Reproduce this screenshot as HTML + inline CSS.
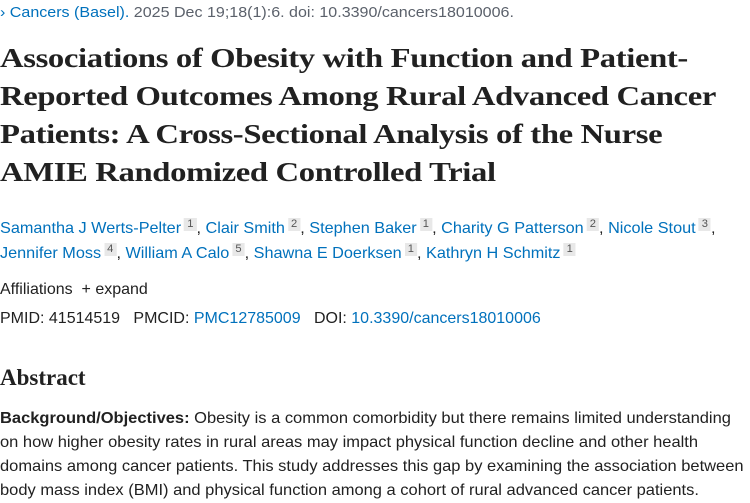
<!DOCTYPE html>
<html><head><meta charset="utf-8">
<style>
body{margin:0;width:750px;height:500px;overflow:hidden;background:#fff;font-family:"Liberation Sans",sans-serif;color:#212121}
.a{color:#0071bc;text-decoration:none}
.l{position:absolute;left:0;white-space:nowrap;transform-origin:0 0}
.t{font-family:"Liberation Serif",serif;font-weight:bold;font-size:27px;color:#212121;letter-spacing:-0.3px;transform:scaleX(1.21)}
.au{font-size:16px;color:#212121;transform:scaleX(1.015)}
sup{display:inline-block;font-size:11px;background:#e8e8e8;color:#555;padding:0 3px;vertical-align:6px;line-height:13px;margin-left:3px}
.b{font-size:16px;line-height:24px;transform:scaleX(1.03)}
</style></head><body>
<div class="l" style="top:4px;font-size:15px;color:#5b616b;transform:scaleX(1.07)"><span class="a">› Cancers (Basel).</span> 2025 Dec 19;18(1):6. doi: 10.3390/cancers18010006.</div>
<div class="l t" style="top:43px">Associations of Obesity with Function and Patient-</div>
<div class="l t" style="top:81px">Reported Outcomes Among Rural Advanced Cancer</div>
<div class="l t" style="top:119px">Patients: A Cross-Sectional Analysis of the Nurse</div>
<div class="l t" style="top:157px">AMIE Randomized Controlled Trial</div>
<div class="l au" style="top:218px"><span class="a">Samantha J Werts-Pelter</span><sup>1</sup>, <span class="a">Clair Smith</span><sup>2</sup>, <span class="a">Stephen Baker</span><sup>1</sup>, <span class="a">Charity G Patterson</span><sup>2</sup>, <span class="a">Nicole Stout</span><sup>3</sup>,</div>
<div class="l au" style="top:243px"><span class="a">Jennifer Moss</span><sup>4</sup>, <span class="a">William A Calo</span><sup>5</sup>, <span class="a">Shawna E Doerksen</span><sup>1</sup>, <span class="a">Kathryn H Schmitz</span><sup>1</sup></div>
<div class="l" style="top:281px;font-size:16px">Affiliations &nbsp;+ expand</div>
<div class="l" style="top:310px;font-size:16px">PMID: 41514519 &nbsp;&nbsp;PMCID: <span class="a">PMC12785009</span> &nbsp;&nbsp;DOI: <span class="a">10.3390/cancers18010006</span></div>
<div class="l" style="top:365px;font-family:'Liberation Serif',serif;font-size:23px;font-weight:bold;color:#212121">Abstract</div>
<div class="l b" style="top:407px"><b>Background/Objectives:</b> Obesity is a common comorbidity but there remains limited understanding</div>
<div class="l b" style="top:431px">on how higher obesity rates in rural areas may impact physical function decline and other health</div>
<div class="l b" style="top:455px">domains among cancer patients. This study addresses this gap by examining the association between</div>
<div class="l b" style="top:479px">body mass index (BMI) and physical function among a cohort of rural advanced cancer patients.</div>
</body></html>
